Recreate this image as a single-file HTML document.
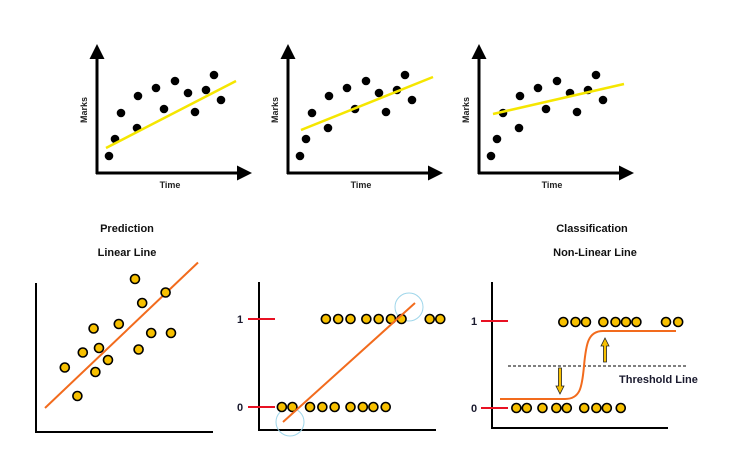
<!DOCTYPE html>
<html><head><meta charset="utf-8"><style>
html,body{margin:0;padding:0;background:#fff;}
svg{display:block;font-family:"Liberation Sans",sans-serif;}
</style></head><body>
<svg id="c" width="738" height="464" viewBox="0 0 738 464">
<defs>
<marker id="ah" viewBox="0 0 10 10" refX="4" refY="5" markerWidth="5" markerHeight="5" orient="auto-start-reverse"><path d="M0,0L10,5L0,10z" fill="#000"/></marker>
</defs>
<g id="topg"></g>
<g id="botg"></g>
</svg>
<script>
// Top panels: dots (time, marks) relative to axis origin
const topTime  = [12,18,24,41,40,59,67,78,91,98,109,117,124];
const topMarks = [17,34,60,77,45,85,64,92,80,61,83,98,73];
const topPanelOrigins = [97,288,479];
const fitStartX = [9,13,14];
const fitStartY = [25,43,59];
const fitEndX = [139,145,145];
const fitEndY = [92,96,89];

// Bottom-left prediction scatter (x, y in plot units)
const predX = [16,23,26,32,33,35,40,46,55,59,57,64,72,75];
const predY = [43,24,53,69,40,56,48,72,102,86,55,66,93,66];
const predLineX = [5,90];
const predLineY = [16,113];

// Middle classification: dot positions along x (plot units)
const cls1X = [38,45,52,61,68,75,81,97,103];
const cls0X = [13,19,29,36,43,52,59,65,72];
// Right classification
const sig1X = [41,48,54,64,71,77,83,100,107];
const sig0X = [14,20,29,37,43,53,60,66,74];

const NS='http://www.w3.org/2000/svg';
function mk(tag,attrs,parent){const e=document.createElementNS(NS,tag);for(const k in attrs)e.setAttribute(k,attrs[k]);parent.appendChild(e);return e;}

const topG=document.getElementById('topg');
const botG=document.getElementById('botg');

topPanelOrigins.forEach((ox,p)=>{
  const oy=173;
  const g=mk('g',{},topG);
  
  
  const sx=v=>ox+v, sy=v=>oy-v;
  const ya=mk('line',{x1:ox,y1:oy+1,x2:ox,y2:53,stroke:'#000','stroke-width':3,'marker-end':'url(#ah)'},g);
  
  
  const xa=mk('line',{x1:ox-1,y1:oy,x2:ox+146,y2:oy,stroke:'#000','stroke-width':3,'marker-end':'url(#ah)'},g);
  
  
  topTime.forEach((t,i)=>{
    const c=mk('circle',{cx:sx(t),cy:sy(topMarks[i]),r:4.3,fill:'#000'},g);
    
    
  });
  const l=mk('line',{x1:sx(fitStartX[p]),y1:sy(fitStartY[p]),x2:sx(fitEndX[p]),y2:sy(fitEndY[p]),stroke:'#f5e600','stroke-width':2.5},g);
  
  
  const tx=mk('text',{x:ox+73,y:188,'font-size':9,'font-weight':'bold','text-anchor':'middle',fill:'#222'},g);
  tx.textContent='Time';
  
  
  const ty=mk('text',{x:0,y:0,'font-size':9,'font-weight':'bold','text-anchor':'middle',fill:'#222',transform:'translate('+(ox-10)+',110) rotate(-90)'},g);
  ty.textContent='Marks';
  
  
});

function title(x,y,s,name){const t=mk('text',{x:x,y:y,'font-size':11,'font-weight':'bold','text-anchor':'middle',fill:'#111'},botG);t.textContent=s;}
title(127,232,'Prediction','prediction-title');
title(127,256,'Linear Line','linear-line-title');
title(592,232,'Classification','classification-title');
title(595,256,'Non-Linear Line','non-linear-line-title');

function ydot(g,x,y){const c=mk('circle',{cx:x,cy:y,r:4.5,fill:'#f7c000',stroke:'#000','stroke-width':1.6},g);}
function axes(g,ox,oy,topY,right){
  const a=mk('path',{d:'M'+ox+','+topY+'V'+oy+'H'+right,stroke:'#000','stroke-width':2,fill:'none'},g);
  
  
}

// Prediction panel
{
  const g=mk('g',{},botG);
  
  
  const ox=36,oy=432, sx=v=>ox+v*1.8, sy=v=>oy-v*1.5;
  axes(g,ox,oy,283,213);
  const l=mk('line',{x1:sx(predLineX[0]),y1:sy(predLineY[0]),x2:sx(predLineX[1]),y2:sy(predLineY[1]),stroke:'#f26b1d','stroke-width':2},g);
  
  
  predX.forEach((x,i)=>ydot(g,sx(x),sy(predY[i])));
}

function ticks(g,ox,y1,y0,labx){
  [[y1,'1'],[y0,'0']].forEach(([y,s])=>{
    const r=mk('line',{x1:ox-11,y1:y,x2:ox+16,y2:y,stroke:'#e81123','stroke-width':2},g);
    
    
    const t=mk('text',{x:labx,y:y+4,'font-size':11,'font-weight':'bold','text-anchor':'middle',fill:'#1a1a2e'},g);
    t.textContent=s;
    
    
  });
}

// Middle panel: linear fit on binary data
{
  const g=mk('g',{},botG);
  
  
  const ox=259,oy=430, sx=v=>ox+v*1.76;
  axes(g,ox,oy,282,436);
  ticks(g,ox,319,407,240);
  [[290,422],[409,307]].forEach(([x,y])=>{const c=mk('circle',{cx:x,cy:y,r:14,fill:'none',stroke:'#9fd6ea','stroke-width':1},g);});
  cls1X.forEach(x=>ydot(g,sx(x),319));
  cls0X.forEach(x=>ydot(g,sx(x),407));
  const l=mk('line',{x1:283,y1:422,x2:415,y2:303,stroke:'#f26b1d','stroke-width':2},g);
  
  
}

// Right panel: sigmoid
{
  const g=mk('g',{},botG);
  
  
  const ox=492,oy=428, sx=v=>ox+v*1.74;
  axes(g,ox,oy,282,668);
  ticks(g,ox,321,408,474);
  sig1X.forEach(x=>ydot(g,sx(x),322));
  sig0X.forEach(x=>ydot(g,sx(x),408));
  const d=mk('line',{x1:508,y1:366,x2:686,y2:366,stroke:'#333','stroke-width':1.2,'stroke-dasharray':'3,2'},g);
  
  
  const s=mk('path',{d:'M500,399H565C580,399 582,388 584,366C586,344 588,331 603,331H676',stroke:'#f26b1d','stroke-width':2,fill:'none'},g);
  
  
  const t=mk('text',{x:619,y:383,'font-size':11,'font-weight':'bold',fill:'#1a1a2e'},g);
  t.textContent='Threshold Line';
  
  
  const a1=mk('path',{d:'M558.5,368V386H556L560,394L564,386H561.5V368Z',fill:'#f7c000',stroke:'#222','stroke-width':0.8},g);
  
  
  const a2=mk('path',{d:'M603.5,362V346H601L605,338L609,346H606.5V362Z',fill:'#f7c000',stroke:'#222','stroke-width':0.8},g);
  
  
}
</script>
</body></html>
